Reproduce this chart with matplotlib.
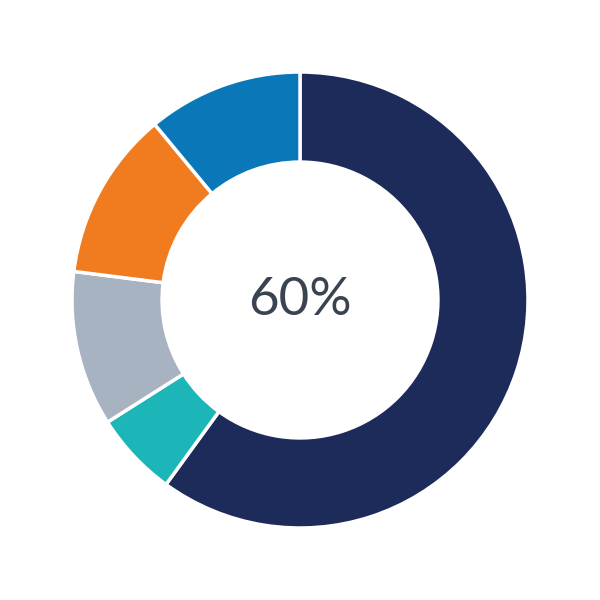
import matplotlib
matplotlib.use('Agg')
import matplotlib.pyplot as plt

labels = ['Navy', 'Teal', 'Gray', 'Orange', 'Blue']
values = [60, 6, 11, 12, 11]
colors = ['#1d2b5a', '#1cb5b8', '#a8b3c2', '#f07c1f', '#0a78b8']
center_label = '60%'

fig = plt.figure(figsize=(6, 6), dpi=100)
ax = fig.add_axes([0, 0, 1, 1])
ax.pie(values, colors=colors, startangle=90, counterclock=False,
       radius=1.0,
       wedgeprops=dict(width=0.395, edgecolor='white', linewidth=2.5))
ax.text(0, 0, center_label, ha='center', va='center', fontsize=38,
        color='#3a4450', family='Lato', fontweight='normal')
lim = 300 / 228
ax.set_xlim(-lim, lim)
ax.set_ylim(-lim, lim)
ax.set_aspect('equal')
ax.axis('off')
fig.savefig('out.png', dpi=100, facecolor='white')
